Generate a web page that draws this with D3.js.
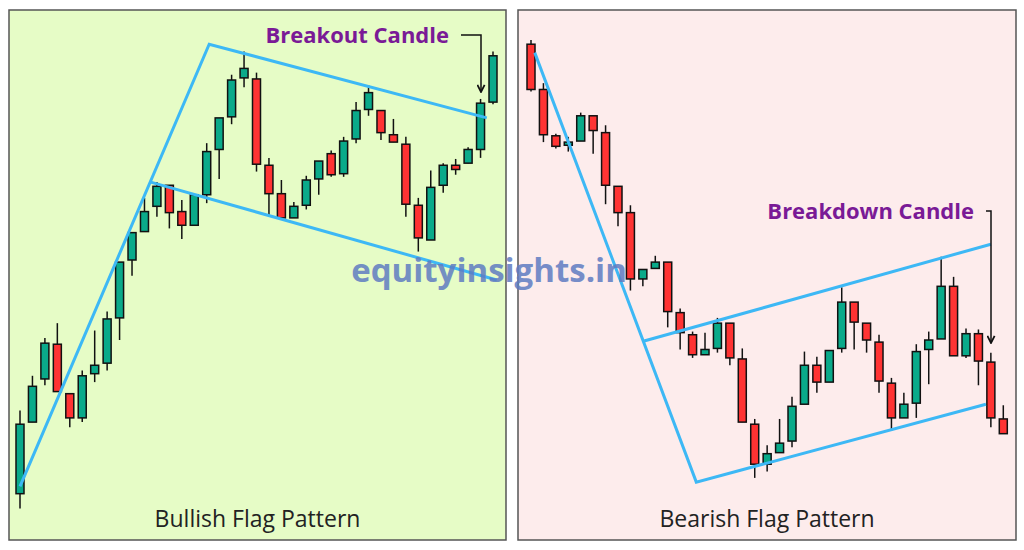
<!DOCTYPE html>
<html><head><meta charset="utf-8">
<script src="https://cdn.jsdelivr.net/npm/d3@7"></script>
<style>body{margin:0;background:#fff}</style>
</head><body>
<svg width="1024" height="550"></svg>
<script>
// candle levels measured top-down: body top, body bottom, wick top, wick bottom, 1 = green
const bullTop = [403,367,326,327,374,357,347,303,249,221,201,177,176,201,185,144,112,76,65,75,157,184,196,171,153,146,134,105,88,105,128,137,195,178,157,157,142,98,53];
const bullBot = [469,401,360,372,397,397,355,345,302,247,220,196,202,214,214,185,142,111,74,156,184,207,207,195,170,166,165,132,104,126,135,194,226,228,176,161,155,142,97];
const bullHi  = [390,357,321,307,374,352,314,296,249,221,188,173,176,190,185,136,112,71,49,69,150,171,192,167,153,143,130,97,81,105,113,130,188,162,155,151,140,94,49];
const bullLo  = [483,401,366,372,406,401,363,352,323,262,220,206,217,227,214,193,170,118,83,163,206,209,207,199,185,168,168,136,110,133,135,206,239,228,183,166,155,150,99];
const bullUp  = [1,1,1,0,0,1,1,1,1,1,1,1,0,0,1,1,1,1,1,0,0,0,1,1,1,0,1,1,1,0,0,0,0,1,1,0,1,1,1];

const bearTop = [42,85,129,135,110,110,126,177,202,256,249,249,297,318,332,307,307,341,403,431,421,386,347,347,333,287,287,307,325,364,384,334,323,272,272,317,317,344,398];
const bearBot = [85,128,139,138,134,124,176,202,265,265,255,296,316,337,337,331,340,401,441,441,430,419,384,363,363,331,306,323,362,397,397,383,332,322,338,338,343,397,412];
const bearHi  = [38,79,127,130,107,110,119,177,195,256,243,249,293,315,316,302,307,331,398,423,398,377,334,339,333,273,287,307,318,359,373,327,315,244,263,312,313,335,385];
const bearLo  = [87,135,141,144,134,146,194,215,276,272,255,311,332,340,337,335,347,401,454,448,430,425,384,373,363,335,332,335,373,409,397,397,365,322,338,340,366,406,412];
const bearUp  = [0,0,0,1,1,0,0,0,0,1,1,0,0,0,1,1,0,0,0,1,1,1,1,0,1,1,0,0,0,0,1,1,1,1,0,1,0,0,0];

// trend lines as [candle index, level]
const bullPole = [[0,462],[15.2,42],[37.5,112]];
const bullFlagLow = [[10.5,173],[38.3,266]];
const bearPole = [[0.3,50],[13.3,458],[36.6,384]];
const bearFlagHigh = [[9.1,324],[37,232]];

const svg = d3.select('svg');
const y = d3.scaleLinear().domain([0,522.5]).range([0,550]);
const green = '#0aaa8a', red = '#ff3333', blue = '#3db8f5';

function panel(x0, x1, bg, xs, top, bot, hi, lo, up, lines, title) {
  svg.append('rect').attr('x', x0).attr('y', 10).attr('width', x1 - x0).attr('height', 530)
    .attr('fill', bg).attr('stroke', '#555').attr('stroke-width', 1.5);
  const g = svg.append('g');
  top.forEach(function(t, i){
    const cx = xs(i);
    g.append('line').attr('x1', cx).attr('x2', cx).attr('y1', y(hi[i])).attr('y2', y(lo[i]))
      .attr('stroke', '#111').attr('stroke-width', 1.5);
    g.append('rect').attr('x', cx - 4).attr('width', 8)
      .attr('y', y(t)).attr('height', Math.max(2, y(bot[i]) - y(t)))
      .attr('fill', up[i] ? green : red).attr('stroke', '#111').attr('stroke-width', 1.5);
  });
  const ln = d3.line().x(function(d){ return xs(d[0]); }).y(function(d){ return y(d[1]); });
  lines.forEach(function(l){
    svg.append('path').attr('d', ln(l)).attr('fill', 'none').attr('stroke', blue).attr('stroke-width', 3);
  });
  svg.append('text').attr('x', (x0 + x1) / 2).attr('y', 527).attr('text-anchor', 'middle')
    .attr('font-family', 'Open Sans, sans-serif').attr('font-size', 23).attr('fill', '#222').text(title);
}

const xL = d3.scaleLinear().domain([0,38]).range([20,493]);
const xR = d3.scaleLinear().domain([0,38]).range([531,1003.3]);
panel(9, 506, '#e6fcc6', xL, bullTop, bullBot, bullHi, bullLo, bullUp, [bullPole, bullFlagLow], 'Bullish Flag Pattern');
panel(518, 1016, '#fdecec', xR, bearTop, bearBot, bearHi, bearLo, bearUp, [bearPole, bearFlagHigh], 'Bearish Flag Pattern');

svg.append('defs').append('marker').attr('id', 'ah').attr('viewBox', '0 0 10 10')
  .attr('refX', 9).attr('refY', 5).attr('markerWidth', 6).attr('markerHeight', 6).attr('orient', 'auto')
  .append('path').attr('d', 'M1,1 L9,5 L1,9').attr('fill', 'none').attr('stroke', '#111').attr('stroke-width', 2);

function note(label, tx, ty, ax, ay2) {
  svg.append('text').attr('x', tx).attr('y', ty).attr('text-anchor', 'end')
    .attr('font-family', 'Open Sans, sans-serif').attr('font-weight', 'bold').attr('font-size', 22)
    .attr('fill', '#7a1a96').text(label);
  svg.append('path').attr('d', 'M' + (tx + 12) + ',' + (ty - 8) + ' H' + ax + ' V' + ay2)
    .attr('fill', 'none').attr('stroke', '#111').attr('stroke-width', 1.5).attr('marker-end', 'url(#ah)');
}
note('Breakout Candle', 449, 43, 481, 92);
note('Breakdown Candle', 974, 219, 991, 343);

svg.append('text').attr('x', 489).attr('y', 282).attr('text-anchor', 'middle')
  .attr('font-family', 'Open Sans, sans-serif').attr('font-weight', 'bold').attr('font-size', 33)
  .attr('fill', '#5f7cc2').attr('opacity', 0.85).text('equityinsights.in');
</script>
</body></html>
